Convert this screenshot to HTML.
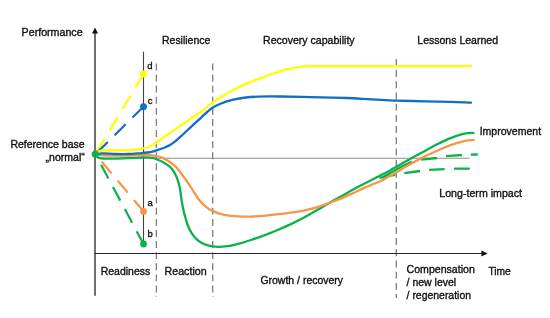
<!DOCTYPE html>
<html><head><meta charset="utf-8"><title>Resilience curve</title>
<style>
html,body{margin:0;padding:0;background:#fff}
svg{display:block}
text{font-family:"Liberation Sans",sans-serif;font-size:10.5px;fill:#111;stroke:#111;stroke-width:0.35px}
.s{font-size:9.5px}
.c{fill:none;stroke-width:2.3;stroke-linecap:round;stroke-linejoin:round}
.d{fill:none;stroke-width:2.2;stroke-dasharray:15.5 9.6}
.e{fill:none;stroke-width:2.3;stroke-linejoin:round}
</style></head><body>
<svg width="550" height="318" viewBox="0 0 550 318">
<rect width="550" height="318" fill="#fff"/>
<!-- reference line -->
<line x1="100" y1="158.2" x2="469.3" y2="158.2" stroke="#8c8c8c" stroke-width="1.1"/>
<!-- phase separators -->
<g stroke="#7d7d7d" stroke-width="1.3" fill="none">
<line x1="156.4" y1="63.5" x2="156.4" y2="297" stroke-dasharray="6.9 4.2"/>
<line x1="212.7" y1="63.5" x2="212.7" y2="297" stroke-dasharray="6.9 4.2"/>
<line x1="396.3" y1="58.9" x2="396.3" y2="298" stroke-dasharray="6.9 4.3"/>
</g>
<!-- thin vertical -->
<line x1="143.5" y1="51.7" x2="143.5" y2="244" stroke="#444" stroke-width="1.1"/>
<!-- dashed scenario lines -->
<path class="d" stroke="#ffff00" d="M143.5 74 L95.4 154.2"/>
<path class="d" stroke="#0f6fc6" d="M143.5 106.7 L95.4 154.2"/>
<path class="d" stroke="#f79646" stroke-dashoffset="0.6" d="M143.5 211.4 L95.4 154.2"/>
<path class="d" stroke="#0cb14b" stroke-dashoffset="1" d="M143.5 244 L95.4 154.2"/>
<!-- long-term dashed -->
<path class="e" stroke="#0cb14b" d="M379.5 178 Q387 176 395.4 174.9 M404.3 173.1 L420 171 M429.1 169.9 L444.6 169.1 M453.9 168.7 L469.8 168.6"/>
<path class="e" stroke="#0cb14b" d="M382 177.8 L387.7 174.4 L396.3 169.5 L403.7 165.6 L412 161.9 M421.2 159.6 L437.1 158 M446 156.2 L461.9 155 M470.8 154.7 L477.8 154.5"/>
<!-- curves -->
<path class="c" stroke="#0cb14b" d="M95.4 154.2 C95.8 154.8 96.8 156.8 98.0 157.5 C99.2 158.2 99.8 158.3 102.7 158.5 C105.6 158.7 111.2 158.7 115.5 158.6 C119.8 158.5 124.0 158.4 128.2 158.2 C132.4 158.0 137.7 157.6 140.9 157.5 C144.1 157.4 145.2 157.3 147.3 157.4 C149.4 157.5 152.1 157.9 153.6 158.2 C155.1 158.5 154.9 158.6 156.4 159.2 C157.9 159.8 160.6 160.8 162.7 162.0 C164.8 163.2 167.3 164.7 169.1 166.2 C170.9 167.7 172.2 169.2 173.5 171.2 C174.8 173.2 176.1 175.8 177.0 178.2 C177.9 180.5 178.6 183.1 179.2 185.3 C179.8 187.5 180.0 188.9 180.4 191.4 C180.8 193.9 181.1 197.1 181.6 200.3 C182.1 203.5 182.9 207.6 183.5 210.5 C184.1 213.4 184.7 215.2 185.4 217.5 C186.1 219.8 186.5 221.9 187.5 224.5 C188.5 227.1 189.9 230.2 191.5 232.8 C193.1 235.4 195.2 237.9 197.3 239.8 C199.4 241.7 201.8 243.2 204.3 244.3 C206.8 245.4 210.0 246.0 212.5 246.4 C215.0 246.8 216.6 246.9 219.5 246.8 C222.4 246.7 226.3 246.5 229.7 245.9 C233.1 245.3 236.2 244.5 240.0 243.4 C243.8 242.3 248.4 240.8 252.7 239.4 C256.9 238.0 261.2 236.5 265.5 234.9 C269.8 233.3 274.0 231.6 278.2 229.8 C282.4 228.0 286.7 226.1 290.9 224.1 C295.1 222.1 299.1 220.1 303.6 217.7 C308.1 215.3 313.4 212.3 317.7 209.8 C322.0 207.3 325.4 205.1 329.6 202.7 C333.9 200.3 339.6 197.3 343.2 195.3 C346.8 193.3 347.9 192.4 351.4 190.5 C354.9 188.6 360.2 185.8 364.1 183.8 C368.0 181.8 371.1 180.3 375.0 178.3 C378.9 176.3 384.1 173.7 387.7 171.8 C391.2 169.9 393.6 168.2 396.3 166.7 C399.0 165.1 401.4 163.8 403.7 162.5 C406.0 161.2 408.4 159.9 410.0 159.0 C411.6 158.1 410.6 158.6 413.2 157.2 C415.8 155.8 421.8 152.6 425.9 150.4 C430.0 148.2 433.6 146.2 437.7 144.1 C441.8 142.0 446.2 139.8 450.5 138.1 C454.8 136.4 460.0 134.8 463.2 133.9 C466.4 133.1 467.8 133.2 469.5 133.0 C471.2 132.8 472.9 132.9 473.6 132.9"/>
<path class="c" stroke="#f79646" d="M95.4 154.2 C96.6 154.4 99.4 155.2 102.7 155.4 C106.0 155.6 111.2 155.6 115.5 155.6 C119.8 155.6 124.0 155.7 128.2 155.6 C132.4 155.5 137.7 155.2 140.9 155.1 C144.1 155.0 145.2 154.9 147.3 155.0 C149.4 155.1 152.1 155.4 153.6 155.6 C155.1 155.8 154.9 155.6 156.4 156.0 C157.9 156.4 160.6 157.0 162.7 157.9 C164.8 158.8 167.0 160.1 169.1 161.5 C171.2 162.9 173.4 164.4 175.5 166.5 C177.6 168.6 179.7 171.4 181.8 174.2 C183.9 177.0 186.1 180.0 188.2 183.1 C190.3 186.2 192.4 189.7 194.3 192.6 C196.2 195.5 197.5 198.0 199.4 200.3 C201.3 202.6 203.5 204.8 205.7 206.6 C207.9 208.4 209.9 209.8 212.7 211.1 C215.5 212.4 218.6 213.5 222.3 214.3 C226.0 215.2 231.2 215.8 235.0 216.2 C238.8 216.6 242.1 216.6 245.0 216.7 C247.9 216.8 249.3 216.7 252.7 216.5 C256.1 216.3 261.2 216.0 265.5 215.6 C269.8 215.2 274.0 214.7 278.2 214.2 C282.4 213.7 286.7 213.2 290.9 212.6 C295.1 212.0 299.1 211.6 303.6 210.7 C308.1 209.8 313.4 208.5 317.7 207.2 C322.0 205.9 325.4 204.4 329.6 202.8 C333.9 201.2 339.0 199.4 343.2 197.6 C347.4 195.8 351.5 193.8 355.0 192.2 C358.5 190.6 359.9 189.7 364.1 187.9 C368.3 186.1 376.1 183.0 380.0 181.2 C383.9 179.4 385.0 178.6 387.7 177.1 C390.4 175.6 393.6 173.9 396.3 172.3 C399.0 170.8 401.4 169.2 403.7 167.8 C406.0 166.5 408.4 165.1 410.0 164.2 C411.6 163.3 410.6 163.8 413.2 162.4 C415.8 161.0 421.8 157.9 425.9 155.9 C430.0 153.9 433.6 152.3 437.7 150.5 C441.8 148.7 446.2 146.6 450.5 145.1 C454.8 143.6 460.0 142.1 463.2 141.3 C466.4 140.5 467.8 140.5 469.5 140.3 C471.2 140.1 472.9 140.1 473.6 140.0"/>
<path class="c" stroke="#0f6fc6" d="M95.4 154.2 C96.6 154.0 99.4 153.3 102.7 153.3 C106.0 153.3 111.2 153.9 115.5 154.0 C119.8 154.1 124.0 154.1 128.2 154.0 C132.4 153.9 137.7 153.4 140.9 153.2 C144.1 152.9 145.2 152.8 147.3 152.5 C149.4 152.2 152.0 151.7 153.6 151.3 C155.2 150.9 155.5 150.7 157.0 150.2 C158.5 149.7 160.7 149.0 162.7 148.2 C164.7 147.4 167.0 146.8 169.1 145.6 C171.2 144.4 173.4 142.9 175.5 141.2 C177.6 139.5 179.7 137.4 181.8 135.5 C183.9 133.6 186.1 131.5 188.2 129.5 C190.3 127.5 192.4 125.7 194.5 123.7 C196.6 121.8 198.7 119.8 200.9 117.8 C203.1 115.8 205.7 113.2 207.7 111.5 C209.7 109.8 210.7 108.9 212.8 107.6 C214.9 106.3 217.1 105.1 220.5 103.8 C223.9 102.5 229.0 100.8 233.2 99.7 C237.4 98.7 241.7 98.0 245.9 97.5 C250.1 97.0 254.6 96.8 258.6 96.6 C262.6 96.4 266.4 96.4 270.0 96.4 C273.6 96.4 271.5 96.3 280.0 96.5 C288.5 96.7 309.8 97.0 320.9 97.3 C331.9 97.5 337.8 97.7 346.3 98.0 C354.8 98.3 363.5 98.9 371.8 99.3 C380.1 99.7 387.1 100.3 396.0 100.6 C404.9 100.9 416.2 101.1 425.4 101.3 C434.5 101.5 443.3 101.6 450.9 101.8 C458.5 102.0 467.6 102.5 471.0 102.6"/>
<path class="c" stroke="#ffff00" d="M95.4 154.2 C95.9 153.8 97.3 152.2 98.5 151.6 C99.7 150.9 99.9 150.5 102.7 150.3 C105.5 150.1 111.2 150.5 115.5 150.5 C119.8 150.5 124.0 150.6 128.2 150.3 C132.4 150.1 137.7 149.5 140.9 149.0 C144.1 148.5 145.2 148.2 147.3 147.5 C149.4 146.8 152.1 145.4 153.6 144.6 C155.1 143.8 154.9 143.7 156.4 142.6 C157.9 141.5 159.5 140.2 162.7 138.0 C165.9 135.8 171.2 132.1 175.5 129.1 C179.8 126.1 184.0 123.1 188.2 120.2 C192.4 117.3 197.7 114.2 200.9 111.9 C204.2 109.6 205.7 107.8 207.7 106.2 C209.7 104.6 210.7 103.9 212.8 102.4 C214.9 100.9 217.1 99.4 220.5 97.3 C223.9 95.2 229.0 92.2 233.2 90.0 C237.4 87.8 241.7 85.8 245.9 83.9 C250.1 82.0 254.1 80.5 258.6 78.8 C263.1 77.1 268.2 75.0 272.7 73.5 C277.2 72.0 281.2 70.7 285.5 69.6 C289.8 68.5 295.0 67.7 298.2 67.1 C301.4 66.5 302.4 66.4 304.5 66.2 C306.6 66.0 306.8 66.1 311.0 66.1 C315.2 66.1 315.8 66.1 330.0 66.1 C344.2 66.1 372.5 66.1 396.0 66.1 C419.5 66.1 458.5 66.2 471.0 66.2"/>
<!-- axes -->
<line x1="95" y1="32" x2="95" y2="295.7" stroke="#333" stroke-width="1.4"/>
<polygon points="95,27.5 98,33.5 92,33.5" fill="#111"/>
<line x1="94.3" y1="253.5" x2="483" y2="253.5" stroke="#2a2a2a" stroke-width="1.2"/>
<polygon points="487.6,253.5 481.4,250.4 481.4,256.6" fill="#111"/>
<!-- dots -->
<circle cx="143.5" cy="74" r="3.4" fill="#ffff00"/>
<circle cx="143.5" cy="106.7" r="3.4" fill="#0f6fc6"/>
<circle cx="143.5" cy="211.4" r="3.4" fill="#f79646"/>
<circle cx="143.5" cy="244" r="3.4" fill="#0cb14b"/>
<circle cx="95.3" cy="154.1" r="3.6" fill="#0cb14b"/>
<!-- labels -->
<text x="21.6" y="36.1" textLength="61" lengthAdjust="spacingAndGlyphs">Performance</text>
<text x="10.4" y="148.1" textLength="74.2" lengthAdjust="spacingAndGlyphs">Reference base</text>
<text x="45.6" y="160.5" textLength="39.2" lengthAdjust="spacingAndGlyphs">„normal“</text>
<text x="162" y="44.3" textLength="48.3" lengthAdjust="spacingAndGlyphs">Resilience</text>
<text x="263" y="43.6" textLength="91.6" lengthAdjust="spacingAndGlyphs">Recovery capability</text>
<text x="417.3" y="43.8" textLength="80.7" lengthAdjust="spacingAndGlyphs">Lessons Learned</text>
<text x="479.7" y="134.6" textLength="61.4" lengthAdjust="spacingAndGlyphs">Improvement</text>
<text x="439.3" y="196.7" textLength="82.7" lengthAdjust="spacingAndGlyphs">Long-term impact</text>
<text x="100.7" y="275" textLength="49.6" lengthAdjust="spacingAndGlyphs">Readiness</text>
<text x="164.6" y="275" textLength="42" lengthAdjust="spacingAndGlyphs">Reaction</text>
<text x="260.4" y="283.6" textLength="82.7" lengthAdjust="spacingAndGlyphs">Growth / recovery</text>
<text x="406.6" y="273.1" textLength="68.2" lengthAdjust="spacingAndGlyphs">Compensation</text>
<text x="406.6" y="285.7">/ new level</text>
<text x="406.6" y="298.6" textLength="64.4" lengthAdjust="spacingAndGlyphs">/ regeneration</text>
<text x="488.4" y="275.1" textLength="22.4" lengthAdjust="spacingAndGlyphs">Time</text>
<text class="s" x="147.2" y="69.4">d</text>
<text class="s" x="147.8" y="103.6">c</text>
<text class="s" x="147.6" y="205.7">a</text>
<text class="s" x="147.6" y="236.9">b</text>
</svg>
</body></html>
